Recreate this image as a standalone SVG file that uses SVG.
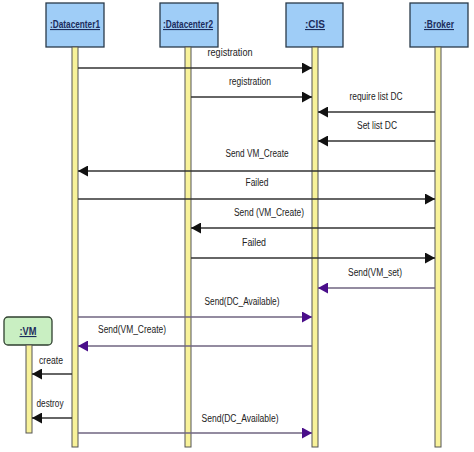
<svg xmlns="http://www.w3.org/2000/svg" width="474" height="452" viewBox="0 0 474 452">
<defs>
<style>
.hdr{fill:#9fcdf7;stroke:#2a3a4a;stroke-width:1.3}
.hdrt{font-family:"Liberation Sans",Arial,sans-serif;font-size:11px;font-weight:bold;fill:#1c2c5c;text-decoration:underline;text-anchor:middle}
.life{fill:#f8f29a;stroke:#555;stroke-width:1}
.vm{fill:#c9efc2;stroke:#2f3f2f;stroke-width:1.3}
.msg{stroke:#333;stroke-width:1.3;fill:none;marker-end:url(#ab)}
.pmsg{stroke:#6f6480;stroke-width:1.3;fill:none;marker-end:url(#ap)}
.lbl{font-family:"Liberation Sans",Arial,sans-serif;font-size:10px;fill:#222;text-anchor:middle}
</style>
<marker id="ab" viewBox="0 0 10 11" refX="10" refY="5.5" markerWidth="10" markerHeight="11" markerUnits="userSpaceOnUse" orient="auto"><path d="M0,0 L10,5.5 L0,11 z" fill="#111"/></marker>
<marker id="ap" viewBox="0 0 10 11" refX="10" refY="5.5" markerWidth="10" markerHeight="11" markerUnits="userSpaceOnUse" orient="auto"><path d="M0,0 L10,5.5 L0,11 z" fill="#4a0e8a"/></marker>
</defs>
<rect width="474" height="452" fill="#fff"/>
<g id="datacenter1">
<rect class="hdr" x="46" y="3" width="58" height="44"/>
<text class="hdrt" x="75" y="28" textLength="50" lengthAdjust="spacingAndGlyphs">:Datacenter1</text>
<rect class="life" x="72" y="47" width="6" height="400"/>
</g>
<g id="datacenter2">
<rect class="hdr" x="160" y="3" width="58" height="44"/>
<text class="hdrt" x="188" y="28" textLength="50" lengthAdjust="spacingAndGlyphs">:Datacenter2</text>
<rect class="life" x="185" y="47" width="6" height="400"/>
</g>
<g id="cis">
<rect class="hdr" x="286" y="3" width="57" height="44"/>
<text class="hdrt" x="315" y="28" textLength="20" lengthAdjust="spacingAndGlyphs">:CIS</text>
<rect class="life" x="312" y="47" width="6" height="400"/>
</g>
<g id="broker">
<rect class="hdr" x="410" y="3" width="58" height="44"/>
<text class="hdrt" x="439" y="28" textLength="30" lengthAdjust="spacingAndGlyphs">:Broker</text>
<rect class="life" x="435" y="47" width="6" height="400"/>
</g>
<g id="vm">
<rect class="vm" x="4" y="317" width="48" height="28" rx="4"/>
<text class="hdrt" x="28" y="335" textLength="17" lengthAdjust="spacingAndGlyphs">:VM</text>
<rect class="life" x="26" y="345" width="6" height="88"/>
</g>
<g id="connectors">
<line class="msg" x1="78" y1="68" x2="312" y2="68"/>
<text class="lbl" x="230" y="56" textLength="45" lengthAdjust="spacingAndGlyphs">registration</text>
<line class="msg" x1="191" y1="97" x2="312" y2="97"/>
<text class="lbl" x="250" y="85" textLength="42" lengthAdjust="spacingAndGlyphs">registration</text>
<line class="msg" x1="435" y1="112" x2="318" y2="112"/>
<text class="lbl" x="376" y="100" textLength="53" lengthAdjust="spacingAndGlyphs">require list DC</text>
<line class="msg" x1="435" y1="141" x2="318" y2="141"/>
<text class="lbl" x="377" y="129" textLength="40" lengthAdjust="spacingAndGlyphs">Set list DC</text>
<line class="msg" x1="435" y1="171" x2="78" y2="171"/>
<text class="lbl" x="257" y="157" textLength="63" lengthAdjust="spacingAndGlyphs">Send VM_Create</text>
<line class="msg" x1="78" y1="199" x2="435" y2="199"/>
<text class="lbl" x="257" y="186" textLength="23" lengthAdjust="spacingAndGlyphs">Failed</text>
<line class="msg" x1="435" y1="228" x2="191" y2="228"/>
<text class="lbl" x="269" y="216" textLength="70" lengthAdjust="spacingAndGlyphs">Send (VM_Create)</text>
<line class="msg" x1="191" y1="258" x2="435" y2="258"/>
<text class="lbl" x="254" y="246" textLength="24" lengthAdjust="spacingAndGlyphs">Failed</text>
<line class="pmsg" x1="435" y1="288" x2="318" y2="288"/>
<text class="lbl" x="375" y="276" textLength="54" lengthAdjust="spacingAndGlyphs">Send(VM_set)</text>
<line class="pmsg" x1="78" y1="317" x2="312" y2="317"/>
<text class="lbl" x="242" y="305" textLength="75" lengthAdjust="spacingAndGlyphs">Send(DC_Available)</text>
<line class="pmsg" x1="312" y1="346" x2="78" y2="346"/>
<text class="lbl" x="132" y="333" textLength="68" lengthAdjust="spacingAndGlyphs">Send(VM_Create)</text>
<line class="msg" x1="72" y1="374" x2="32" y2="374"/>
<text class="lbl" x="51" y="364" textLength="24" lengthAdjust="spacingAndGlyphs">create</text>
<line class="msg" x1="72" y1="418" x2="32" y2="418"/>
<text class="lbl" x="50" y="407" textLength="27" lengthAdjust="spacingAndGlyphs">destroy</text>
<line class="pmsg" x1="78" y1="433" x2="312" y2="433"/>
<text class="lbl" x="240" y="422" textLength="77" lengthAdjust="spacingAndGlyphs">Send(DC_Available)</text>
</g>
</svg>
